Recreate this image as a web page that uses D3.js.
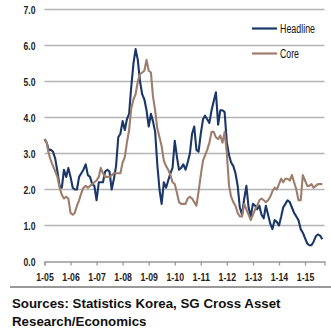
<!DOCTYPE html>
<html>
<head>
<meta charset="utf-8">
<script src="https://cdn.jsdelivr.net/npm/d3@7"></script>
<style>
  body { margin: 0; background: #fff; }
  svg { display: block; }
</style>
</head>
<body>
<svg id="chart" width="331" height="335"></svg>
<script>
// monthly yoy %, Jan 2005 .. Sep 2015
const startMonth = "2005-01";
const headline = [
  3.4, 3.3, 3.1, 3.1, 3.05, 2.85, 2.5, 2.1, 2.05, 2.55, 2.35, 2.6,
  2.35, 2.05, 2.0, 2.0, 2.35, 2.45, 2.55, 2.7, 2.4, 2.35, 2.15, 2.1,
  1.7, 2.2, 2.2, 2.2, 2.5, 2.55, 2.5, 2.0, 2.3, 2.65, 3.45, 3.55,
  3.9, 3.65, 3.95, 4.1, 4.85, 5.5, 5.9, 5.6, 5.0, 4.65, 4.5, 4.2,
  3.75, 4.1, 3.9, 3.6, 2.7, 2.0, 1.6, 2.2, 2.05, 2.25, 2.45, 2.6,
  3.35, 2.9, 2.55, 2.6, 2.7, 2.55, 2.75, 3.0, 3.55, 3.75, 3.1, 3.05,
  3.55, 3.95, 4.05, 3.95, 3.85, 4.2, 4.45, 4.7, 3.8, 4.2, 4.2, 4.15,
  3.3, 2.95, 2.75, 2.65, 2.45, 2.1, 1.5, 1.3, 1.75, 2.1, 1.5, 1.25,
  1.6, 1.55, 1.45, 1.55, 1.3, 1.2, 1.55, 1.3, 1.05, 0.9, 1.15, 1.1,
  1.0, 1.25, 1.5, 1.6, 1.7, 1.65, 1.5, 1.35, 1.25, 1.15, 0.9, 0.8,
  0.65, 0.5, 0.45, 0.45, 0.55, 0.7, 0.75, 0.72, 0.62
];
const core = [
  3.4, 3.3, 3.0, 2.8, 2.65, 2.5, 2.35, 2.05, 1.85, 1.75, 1.8, 1.75,
  1.35, 1.3, 1.35, 1.55, 1.7, 1.9, 2.05, 2.1, 2.05, 2.1, 2.15, 2.2,
  2.25, 2.35, 2.6, 2.45, 2.35, 2.35, 2.35, 2.4, 2.45, 2.45, 2.45, 2.45,
  2.75, 2.9, 3.3, 3.65, 4.25, 4.5, 4.65, 5.0, 5.2, 5.25, 5.3, 5.6,
  5.3, 5.25, 4.6, 4.2, 3.7, 3.45, 3.2, 2.8, 2.65, 2.55, 2.4, 2.2,
  2.15, 1.9, 1.65, 1.6, 1.6, 1.6, 1.75, 1.8, 1.75, 1.65, 1.55, 1.95,
  2.4, 2.8, 2.95, 3.1, 3.3, 3.6, 3.6, 3.45, 3.4, 3.5, 3.3, 3.6,
  3.0, 2.1, 1.8, 1.65, 1.55, 1.35, 1.25, 1.25, 1.6, 1.45, 1.3, 1.15,
  1.3, 1.45, 1.55, 1.7, 1.75, 1.7, 1.65, 1.7, 1.8, 1.95, 2.05, 2.0,
  2.15, 2.3, 2.2, 2.3, 2.3, 2.25, 2.4, 2.2, 2.0, 1.7, 1.7, 2.4,
  2.25, 2.1, 2.1, 2.15, 2.05, 2.1, 2.15, 2.15, 2.15
];
const yTicks = [0, 1, 2, 3, 4, 5, 6, 7];
const seriesNames = ["Headline", "Core"];
const seriesColors = ["#1b3768", "#9e7d6c"];
const sourceLines = ["Sources: Statistics Korea, SG Cross Asset", "Research/Economics"];

const parseMonth = d3.timeParse("%Y-%m");
const t0 = parseMonth(startMonth);
const dates = headline.map((d, i) => d3.timeMonth.offset(t0, i));

const plotLeft = 44.5, plotRight = 324.5, plotTop = 9.5, plotBottom = 261.5;

const svg = d3.select("#chart");
const font = "'Liberation Sans Narrow', 'Arial Narrow', 'Liberation Sans', Arial, sans-serif";

const x = d3.scaleTime()
  .domain([t0, d3.timeMonth.offset(t0, headline.length)])
  .range([plotLeft, plotRight]);
const y = d3.scaleLinear()
  .domain([0, 7])
  .range([plotBottom, plotTop]);

// squeeze text to mimic the narrow face of the original
function narrow(sel, w) {
  sel.attr("textLength", w).attr("lengthAdjust", "spacingAndGlyphs");
}

// gridlines
svg.append("g")
  .selectAll("line")
  .data(yTicks.slice(1))
  .join("line")
    .attr("x1", plotLeft)
    .attr("x2", plotRight)
    .attr("y1", d => y(d))
    .attr("y2", d => y(d))
    .attr("stroke", "#b4b4b4")
    .attr("stroke-width", 1.3);

// y labels
svg.append("g")
  .selectAll("text")
  .data(yTicks)
  .join("text")
    .attr("x", 35.5)
    .attr("y", d => y(d) + 4)
    .attr("text-anchor", "end")
    .attr("font-family", font)
    .attr("font-size", 11.5)
    .attr("font-weight", "bold")
    .attr("fill", "#222")
    .text(d => d.toFixed(1))
    .call(narrow, 12);

// x axis
const xAxis = d3.axisBottom(x)
  .ticks(d3.timeYear.every(1))
  .tickSize(4)
  .tickFormat(d3.timeFormat("1-%y"));

const gx = svg.append("g")
  .attr("transform", `translate(0,${plotBottom})`)
  .call(xAxis);
gx.select(".domain").attr("stroke", "#999").attr("stroke-width", 1.3);
gx.selectAll(".tick line").attr("stroke", "#999").attr("stroke-width", 1.3);
gx.selectAll(".tick text")
  .attr("y", 11)
  .attr("font-family", font)
  .attr("font-size", 11.5)
  .attr("font-weight", "bold")
  .attr("fill", "#222")
  .call(narrow, 17.5);

// lines
const line = d3.line()
  .x((d, i) => x(dates[i]))
  .y(d => y(d));

[headline, core].forEach((s, k) => {
  svg.append("path")
    .datum(s)
    .attr("fill", "none")
    .attr("stroke", seriesColors[k])
    .attr("stroke-width", 2.1)
    .attr("stroke-linejoin", "round")
    .attr("d", line);
});

// legend
const legendWidths = [35, 19];
const legend = svg.append("g");
seriesNames.forEach((name, k) => {
  const ly = 28.5 + k * 25;
  legend.append("line")
    .attr("x1", 252).attr("x2", 277)
    .attr("y1", ly).attr("y2", ly)
    .attr("stroke", seriesColors[k])
    .attr("stroke-width", 2.2);
  legend.append("text")
    .attr("x", 280)
    .attr("y", ly + 4.5)
    .attr("font-family", font)
    .attr("font-size", 12)
    .attr("fill", "#111")
    .text(name)
    .call(narrow, legendWidths[k]);
});

// source note
svg.append("line")
  .attr("x1", 10).attr("x2", 331)
  .attr("y1", 287).attr("y2", 287)
  .attr("stroke", "#777")
  .attr("stroke-width", 1.5);

svg.append("g")
  .selectAll("text")
  .data(sourceLines)
  .join("text")
    .attr("x", 12)
    .attr("y", (d, i) => 307.5 + i * 18.5)
    .attr("font-family", "'Liberation Sans', Arial, sans-serif")
    .attr("font-size", 13.3)
    .attr("font-weight", "bold")
    .attr("fill", "#111")
    .text(d => d);
</script>
</body>
</html>
